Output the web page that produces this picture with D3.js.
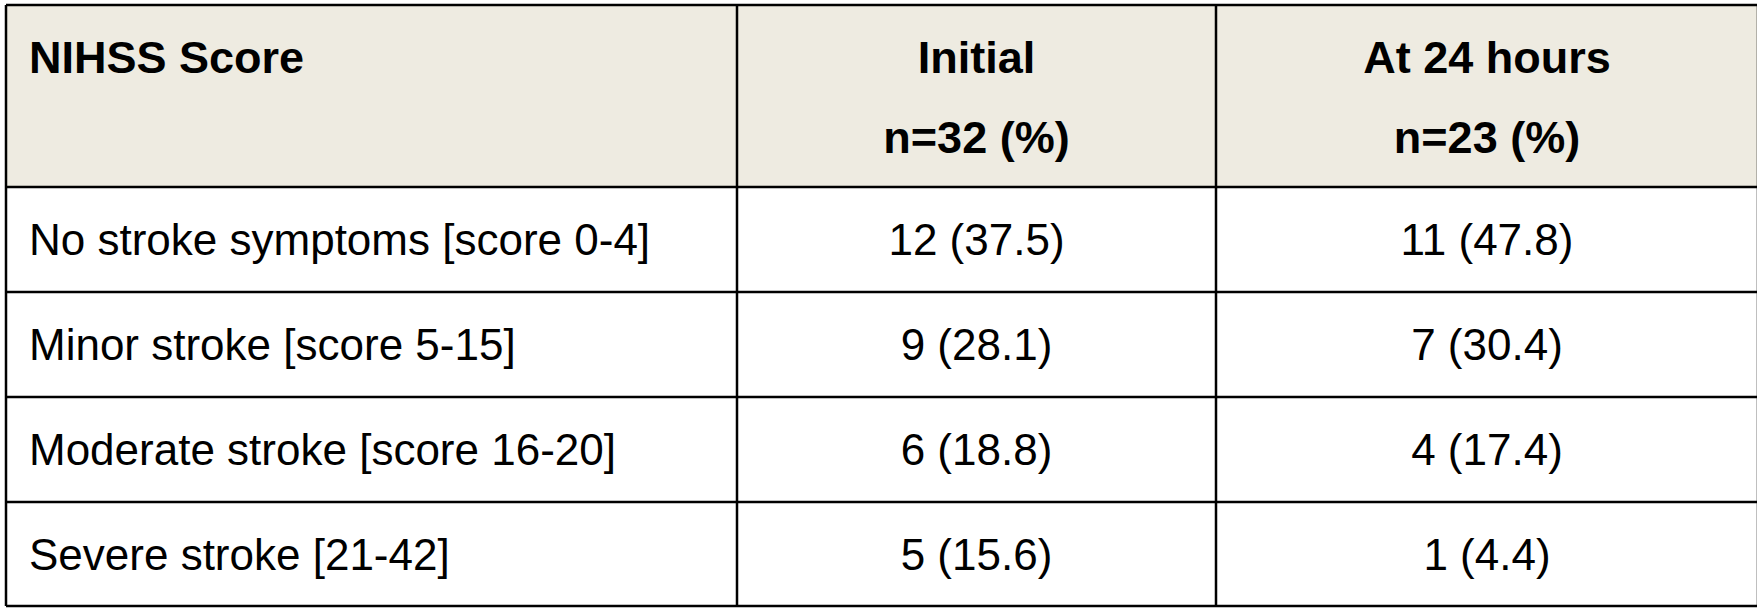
<!DOCTYPE html><html><head><meta charset="utf-8"><script src="https://cdn.jsdelivr.net/npm/d3@7"></script>
<style>body{margin:0;background:#fff}</style></head><body><svg id="c" width="1757" height="612"></svg>
<script>
const headers=[["NIHSS Score"],["Initial","n=32 (%)"],["At 24 hours","n=23 (%)"]];
const categories=["No stroke symptoms [score 0-4]","Minor stroke [score 5-15]","Moderate stroke [score 16-20]","Severe stroke [21-42]"];
const initialVals=["12 (37.5)","9 (28.1)","6 (18.8)","5 (15.6)"];
const at24Vals=["11 (47.8)","7 (30.4)","4 (17.4)","1 (4.4)"];
const svg=d3.select("#c");
const colX=[6,737,1216,1758];
const rowY=[5,187,292,397,502,606];
const font="Liberation Sans, Arial, sans-serif";
svg.append("rect").attr("x",colX[0]).attr("y",rowY[0]).attr("width",colX[3]-colX[0]).attr("height",rowY[1]-rowY[0]).attr("fill","#EEEBE1");
// grid
rowY.forEach(y=>svg.append("line").attr("x1",colX[0]).attr("x2",colX[3]).attr("y1",y).attr("y2",y).attr("stroke","#000").attr("stroke-width",2.5));
colX.forEach(x=>svg.append("line").attr("x1",x).attr("x2",x).attr("y1",rowY[0]).attr("y2",rowY[5]).attr("stroke","#000").attr("stroke-width",2.5));
// header
svg.append("text").attr("x",29).attr("y",73).text(headers[0][0]).attr("font-family",font).attr("font-weight","bold").attr("font-size",45);
[1,2].forEach(i=>{const cx=(colX[i]+colX[i+1])/2;
 headers[i].forEach((t,j)=>svg.append("text").attr("x",cx).attr("y",j?153:73).attr("text-anchor","middle").text(t).attr("font-family",font).attr("font-weight","bold").attr("font-size",45));});
categories.forEach((c,r)=>{const cy=(rowY[r+1]+rowY[r+2])/2;
 const vals=[c,initialVals[r],at24Vals[r]];
 vals.forEach((v,i)=>svg.append("text").attr("x",i?(colX[i]+colX[i+1])/2:29).attr("y",cy).attr("dy","0.36em").attr("text-anchor",i?"middle":"start").text(v).attr("font-family",font).attr("font-size",44));});
</script></body></html>
